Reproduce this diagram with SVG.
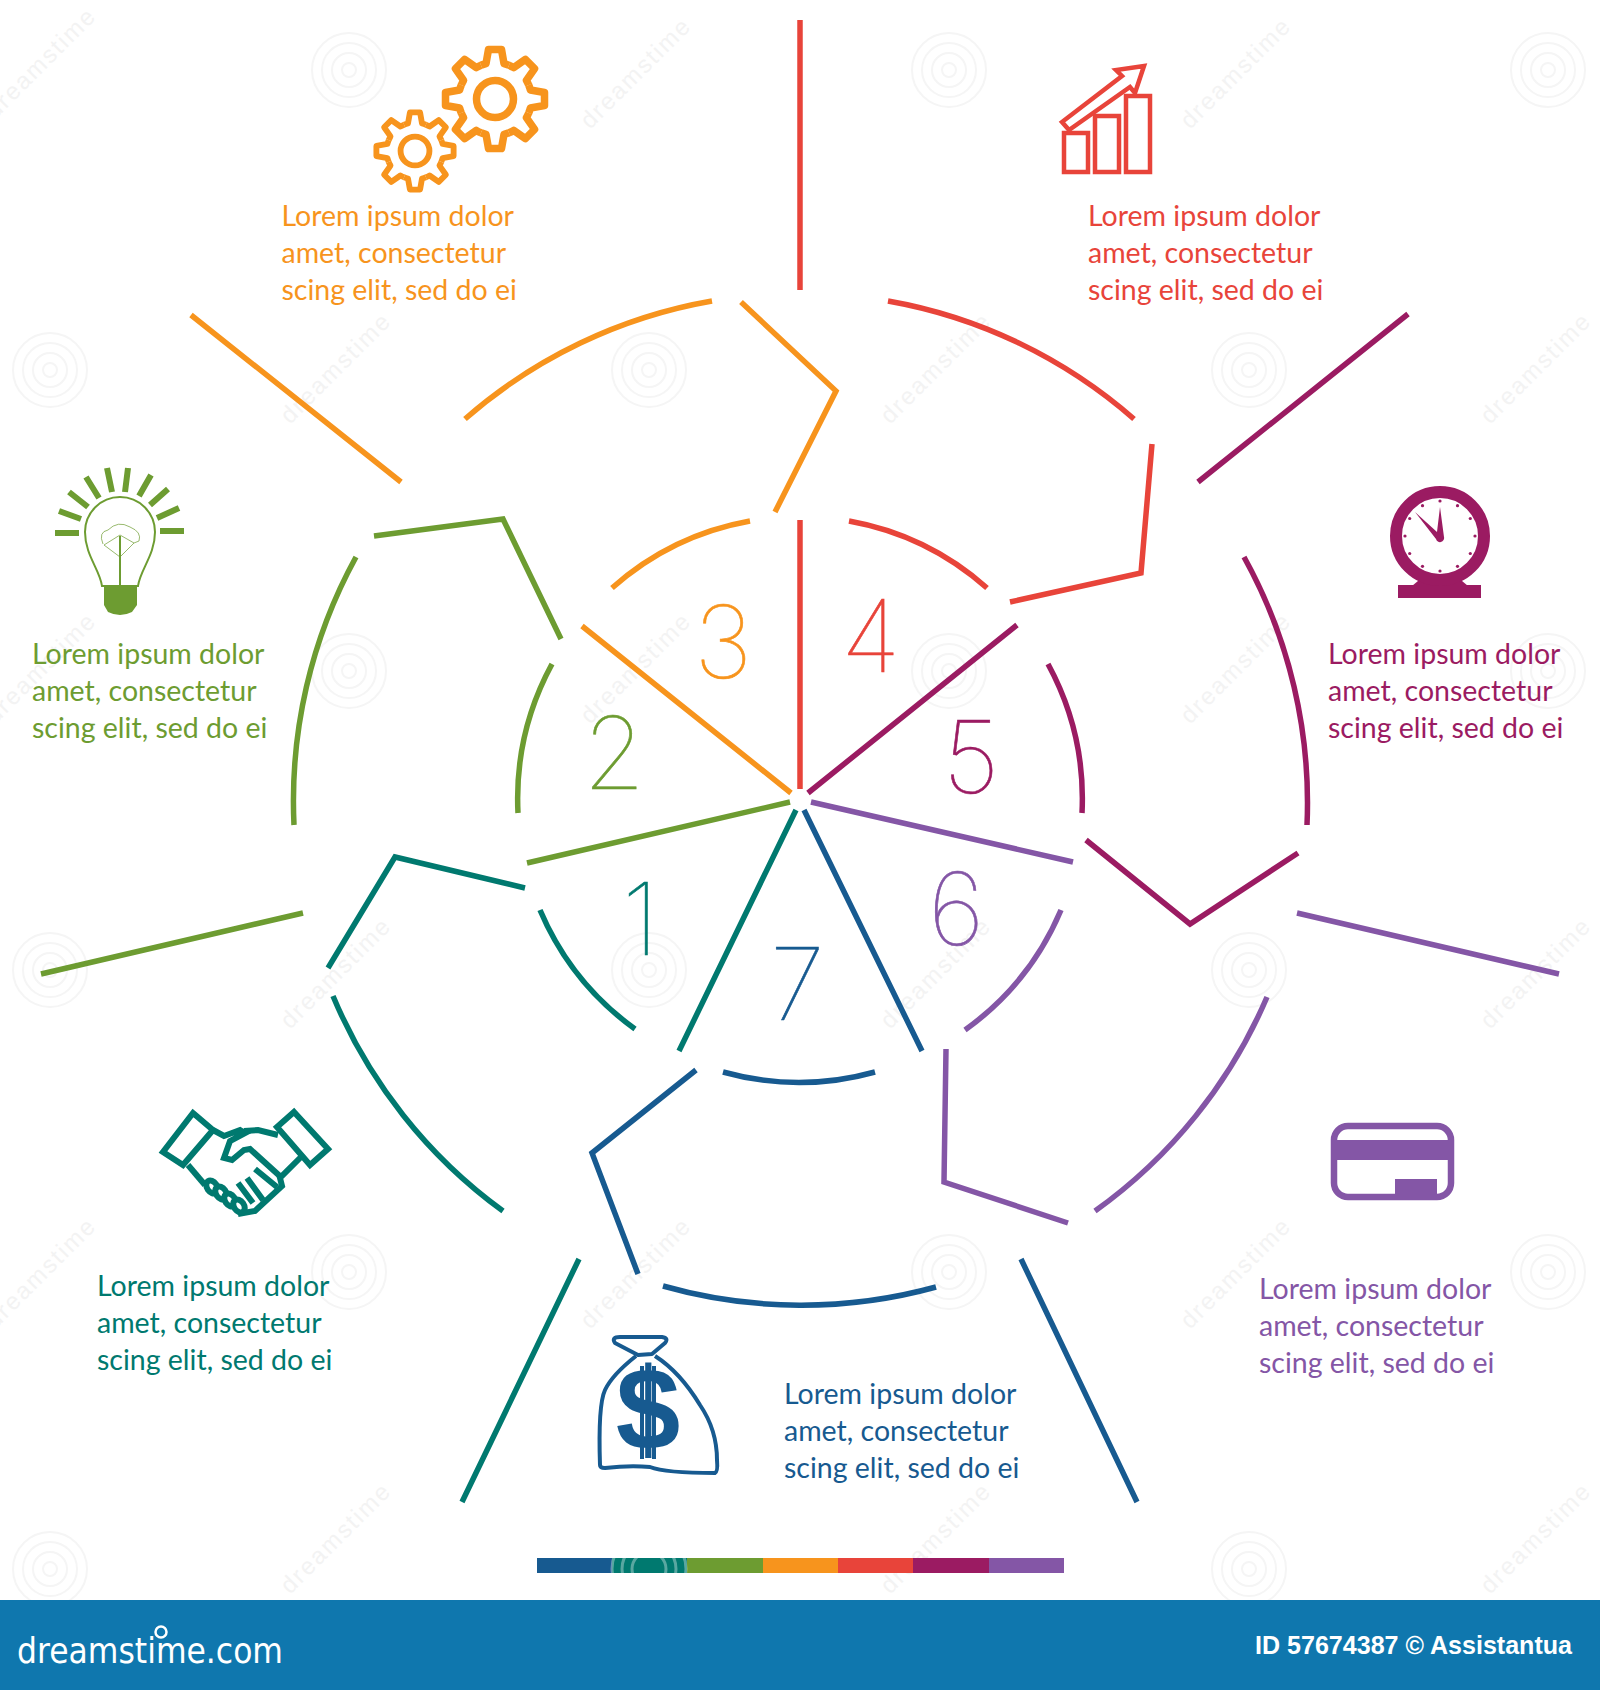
<svg xmlns="http://www.w3.org/2000/svg" xmlns:xlink="http://www.w3.org/1999/xlink" width="1600" height="1690" viewBox="0 0 1600 1690">
<style>
.l{fill:none;stroke-width:5.500;stroke-linecap:butt;stroke-linejoin:miter}
.t{font-family:Lato,"Open Sans",sans-serif;font-size:28.500px}
.d{font-family:Inter,sans-serif;font-weight:100;font-size:100px;stroke-width:.6}
.wm{font-family:"Liberation Sans",sans-serif;font-size:24px;fill:#f3f3f3;letter-spacing:2px}
.or{stroke:#f7941d}.orf{fill:#f7941d}
.re{stroke:#e8443a}.ref{fill:#e8443a}
.wi{stroke:#9b1b62}.wif{fill:#9b1b62}
.pu{stroke:#8456a6}.puf{fill:#8456a6}
.bl{stroke:#175a90}.blf{fill:#175a90}
.te{stroke:#00796f}.tef{fill:#00796f}
.gr{stroke:#6d9c31}.grf{fill:#6d9c31}
</style>
<defs>
<g id="sp" fill="none" stroke="#f5f5f5" stroke-width="2"><circle r="37"/><circle r="27"/><circle r="17"/><circle r="7"/></g>
<path id="gs" d="M-14,-33.7A36.5,36.5 0 0 1 -9,-35.4L-6.5,-49.5H6.5L9,-35.4A36.5,36.5 0 0 1 14,-33.7"/>
<g id="gear" fill="none" stroke="#f7941d" stroke-width="7.500" stroke-linejoin="round">
<use href="#gs"/><use href="#gs" transform="rotate(45)"/><use href="#gs" transform="rotate(90)"/><use href="#gs" transform="rotate(135)"/><use href="#gs" transform="rotate(180)"/><use href="#gs" transform="rotate(225)"/><use href="#gs" transform="rotate(270)"/><use href="#gs" transform="rotate(315)"/>
<circle r="18.5"/>
</g>
<text id="w" class="wm">dreamstime</text>
</defs>
<rect width="1600" height="1690" fill="#fff"/>
<g id="watermark">
<use href="#sp" x="349" y="70"/><use href="#sp" x="949" y="70"/><use href="#sp" x="1548" y="70"/>
<use href="#sp" x="50" y="370"/><use href="#sp" x="649" y="370"/><use href="#sp" x="1249" y="370"/>
<use href="#sp" x="349" y="671"/><use href="#sp" x="949" y="671"/><use href="#sp" x="1548" y="671"/>
<use href="#sp" x="50" y="970"/><use href="#sp" x="649" y="970"/><use href="#sp" x="1249" y="970"/>
<use href="#sp" x="349" y="1272"/><use href="#sp" x="949" y="1272"/><use href="#sp" x="1548" y="1272"/>
<use href="#sp" x="50" y="1569"/><use href="#sp" x="1249" y="1569"/>
<use href="#w" transform="translate(-5,120) rotate(-45)"/><use href="#w" transform="translate(590,130) rotate(-45)"/><use href="#w" transform="translate(1190,130) rotate(-45)"/>
<use href="#w" transform="translate(290,425) rotate(-45)"/><use href="#w" transform="translate(890,425) rotate(-45)"/><use href="#w" transform="translate(1490,425) rotate(-45)"/>
<use href="#w" transform="translate(-5,725) rotate(-45)"/><use href="#w" transform="translate(590,725) rotate(-45)"/><use href="#w" transform="translate(1190,725) rotate(-45)"/>
<use href="#w" transform="translate(290,1030) rotate(-45)"/><use href="#w" transform="translate(890,1030) rotate(-45)"/><use href="#w" transform="translate(1490,1030) rotate(-45)"/>
<use href="#w" transform="translate(-5,1330) rotate(-45)"/><use href="#w" transform="translate(590,1330) rotate(-45)"/><use href="#w" transform="translate(1190,1330) rotate(-45)"/>
<use href="#w" transform="translate(290,1595) rotate(-45)"/><use href="#w" transform="translate(890,1595) rotate(-45)"/><use href="#w" transform="translate(1490,1595) rotate(-45)"/>
</g>
<g id="connectors" class="l">
<path class="l re" d="M800,20V290M800,520V789"/>
<path class="l or" d="M191,315L401,482M582,626L791,793"/>
<path class="l wi" d="M1198,482L1408,314M1017,625L808,793"/>
<path class="l pu" d="M1297,913L1559,974M1073,862L811,802"/>
<path class="l gr" d="M303,913L41,974M527,863L790,802"/>
<path class="l te" d="M579,1259L462,1502M679,1051L796,810"/>
<path class="l bl" d="M1021,1259L1137,1502M922,1051L804,810"/>
</g>
<g id="segment-3">
<path class="l or" d="M612,588A283,283 0 0 1 750,521M465,419A507,507 0 0 1 712,301M741,302L836,391L775,512"/>
<text class="d or orf" x="694" y="678">3</text>
<g id="icon-gears"><use href="#gear" x="495" y="99"/><use href="#gear" transform="translate(415,151) scale(.78)"/></g>
<text class="t orf"><tspan x="281.500" y="226">Lorem ipsum dolor</tspan><tspan x="281.500" y="263">amet, consectetur</tspan><tspan x="281.500" y="300">scing elit, sed do ei</tspan></text>
</g>
<g id="segment-4">
<path class="l re" d="M849,521A283,283 0 0 1 987,588M888,301A507,507 0 0 1 1134,419M1152,444L1141,573L1010,602"/>
<text class="d re ref" x="841" y="672">4</text>
<g id="icon-chart" fill="#fff" stroke="#e8443a" stroke-width="4.500">
<rect x="1064" y="133" width="24" height="39"/><rect x="1095" y="116" width="24" height="56"/><rect x="1126" y="96" width="24" height="76"/>
<path d="M1062,122L1069,130L1130,87L1135,93L1144,66L1116,70L1122,76Z"/>
</g>
<text class="t ref"><tspan x="1088" y="226">Lorem ipsum dolor</tspan><tspan x="1088" y="263">amet, consectetur</tspan><tspan x="1088" y="300">scing elit, sed do ei</tspan></text>
</g>
<g id="segment-5">
<path class="l wi" d="M1048,664A283,283 0 0 1 1082,813M1244,557A507,507 0 0 1 1307,825M1298,853L1190,924L1086,840"/>
<text class="d wi wif" x="943" y="793">5</text>
<g id="icon-clock">
<rect x="1398" y="585" width="83" height="13" class="wif"/>
<path class="wif" d="M1412,586L1425,575H1455L1468,586Z"/>
<circle cx="1440" cy="536" r="44" fill="#fff" class="wi" stroke-width="12"/>
<path class="wif" d="M1440,507L1444,537A4,4 0 0 1 1436,539L1415,512L1437,532Z"/>
<g class="wif"><circle cx="1440" cy="501" r="1.600"/><circle cx="1457.500" cy="505.700" r="1.600"/><circle cx="1470.300" cy="518.500" r="1.600"/><circle cx="1475" cy="536" r="1.600"/><circle cx="1470.300" cy="553.500" r="1.600"/><circle cx="1457.500" cy="566.300" r="1.600"/><circle cx="1440" cy="571" r="1.600"/><circle cx="1422.500" cy="566.300" r="1.600"/><circle cx="1409.700" cy="553.500" r="1.600"/><circle cx="1405" cy="536" r="1.600"/><circle cx="1409.700" cy="518.500" r="1.600"/><circle cx="1422.500" cy="505.700" r="1.600"/></g>
</g>
<text class="t wif"><tspan x="1328" y="664">Lorem ipsum dolor</tspan><tspan x="1328" y="701">amet, consectetur</tspan><tspan x="1328" y="738">scing elit, sed do ei</tspan></text>
</g>
<g id="segment-6">
<path class="l pu" d="M1061,910A283,283 0 0 1 965,1030M1267,997A507,507 0 0 1 1095,1211M1068,1223L944,1182L946,1049"/>
<text class="d pu puf" x="928" y="945">6</text>
<g id="icon-card">
<rect x="1334" y="1126" width="117" height="71" rx="14" fill="#fff" class="pu" stroke-width="6.500"/>
<rect x="1333" y="1140" width="120" height="20" class="puf"/>
<rect x="1395" y="1179" width="42" height="18" class="puf"/>
</g>
<text class="t puf"><tspan x="1259" y="1299">Lorem ipsum dolor</tspan><tspan x="1259" y="1336">amet, consectetur</tspan><tspan x="1259" y="1373">scing elit, sed do ei</tspan></text>
</g>
<g id="segment-7">
<path class="l bl" d="M875,1072A283,283 0 0 1 723,1072M936,1287A507,507 0 0 1 663,1286M638,1274L592,1153L696,1070"/>
<text class="d bl blf" x="770" y="1020">7</text>
<g id="icon-money">
<path class="bl" fill="#fff" stroke-width="4" stroke-linejoin="round" d="M638,1355L615,1343Q611,1337 620,1337L662,1337Q669,1338 665,1343L652,1354Z"/>
<path class="bl" fill="none" stroke-width="4" stroke-linejoin="round" d="M636,1356Q612,1375 605,1390Q598,1405 600,1465Q600,1468 605,1468Q630,1465 650,1467Q665,1473 715,1473Q718,1472 717,1460Q717,1430 700,1405Q680,1372 655,1356"/>
<text x="648" y="1449" text-anchor="middle" class="blf" style="font-family:'Liberation Sans',sans-serif;font-weight:700;font-size:116px">$</text>
<path class="bl" fill="none" stroke-width="4" d="M642,1366V1459M654,1366V1459"/>
</g>
<text class="t blf"><tspan x="784" y="1404">Lorem ipsum dolor</tspan><tspan x="784" y="1441">amet, consectetur</tspan><tspan x="784" y="1478">scing elit, sed do ei</tspan></text>
</g>
<g id="segment-1">
<path class="l te" d="M635,1029A283,283 0 0 1 540,910M503,1211A507,507 0 0 1 333,996M328,968L395,857L525,888"/>
<text class="d te tef" x="622" y="955">1</text>
<g id="icon-handshake" fill="none" stroke="#00796f" stroke-width="6" stroke-linejoin="miter">
<path d="M193,1113L213,1130L183,1165L163,1152Z"/><path d="M294,1112L328,1149L310,1165L277,1127Z"/>
<path d="M213,1130L224,1136L240,1130L245,1133L230,1141L224,1158L232,1160L244,1150L250,1149L282,1178"/>
<path d="M244,1131L258,1130L278,1135"/>
<path d="M303,1155L280,1178L282,1186L255,1211L238,1214"/>
<path d="M188,1165L205,1185"/>
<g fill="#fff"><ellipse cx="212" cy="1187" rx="5" ry="7" transform="rotate(-35 212 1187)"/><ellipse cx="221" cy="1193" rx="5" ry="7" transform="rotate(-35 221 1193)"/><ellipse cx="230" cy="1200" rx="5" ry="7" transform="rotate(-35 230 1200)"/><ellipse cx="239" cy="1206" rx="5" ry="7" transform="rotate(-35 239 1206)"/></g>
<path d="M238,1183L253,1203M247,1178L263,1200M255,1169L277,1187"/>
</g>
<text class="t tef"><tspan x="97" y="1296">Lorem ipsum dolor</tspan><tspan x="97" y="1333">amet, consectetur</tspan><tspan x="97" y="1370">scing elit, sed do ei</tspan></text>
</g>
<g id="segment-2">
<path class="l gr" d="M518,813A283,283 0 0 1 552,664M294,825A507,507 0 0 1 356,557M374,536L503,519L561,639"/>
<text class="d gr grf" x="583" y="789">2</text>
<g id="icon-bulb">
<path class="gr" fill="none" stroke-width="6" d="M55,533H79M59,511L81,519M69,492L88,507M86,477L99,498M107,468L112,492M128,468L125,492M151,475L139,496M168,489L150,505M179,508L157,518M184,531H160"/>
<path class="gr" fill="none" stroke-width="2" d="M102,586C100,570 85,555 85,532A35,35 0 0 1 155,532C155,555 140,570 138,586ZM120,536V587"/>
<path class="grf" d="M104,587H137V605L132,612Q120,618 108,612L104,605Z"/>
<path class="gr" fill="none" stroke-width=".7" d="M103,544Q98,532 108,530Q118,520 130,527Q142,532 139,541L134,543L120,535L104,545L120,557L134,543"/>
</g>
<text class="t grf"><tspan x="32" y="664">Lorem ipsum dolor</tspan><tspan x="32" y="701">amet, consectetur</tspan><tspan x="32" y="738">scing elit, sed do ei</tspan></text>
</g>
<g id="legend-bar">
<rect x="537" y="1558" width="76" height="15" class="blf"/><rect x="612" y="1558" width="76" height="15" class="tef"/><rect x="687" y="1558" width="76" height="15" class="grf"/><rect x="763" y="1558" width="76" height="15" class="orf"/><rect x="838" y="1558" width="76" height="15" class="ref"/><rect x="913" y="1558" width="76" height="15" class="wif"/><rect x="989" y="1558" width="75" height="15" class="puf"/>
<g fill="none" stroke="#fff" stroke-opacity=".35" stroke-width="3"><circle cx="649" cy="1569" r="37"/><circle cx="649" cy="1569" r="27"/><circle cx="649" cy="1569" r="17"/></g>
</g>
<g id="footer">
<rect y="1600" width="1600" height="90" fill="#0f77ae"/>
<text x="17" y="1663" fill="#fff" style="font-family:'DejaVu Sans',sans-serif;font-size:35px" textLength="266" lengthAdjust="spacingAndGlyphs">dreamstime.com</text>
<circle cx="161" cy="1632" r="5.500" fill="none" stroke="#fff" stroke-width="2.500"/>
<text x="1255" y="1654" fill="#fff" style="font-family:'Liberation Sans',sans-serif;font-weight:700;font-size:25px" textLength="317" lengthAdjust="spacingAndGlyphs">ID 57674387 © Assistantua</text>
</g>
</svg>
